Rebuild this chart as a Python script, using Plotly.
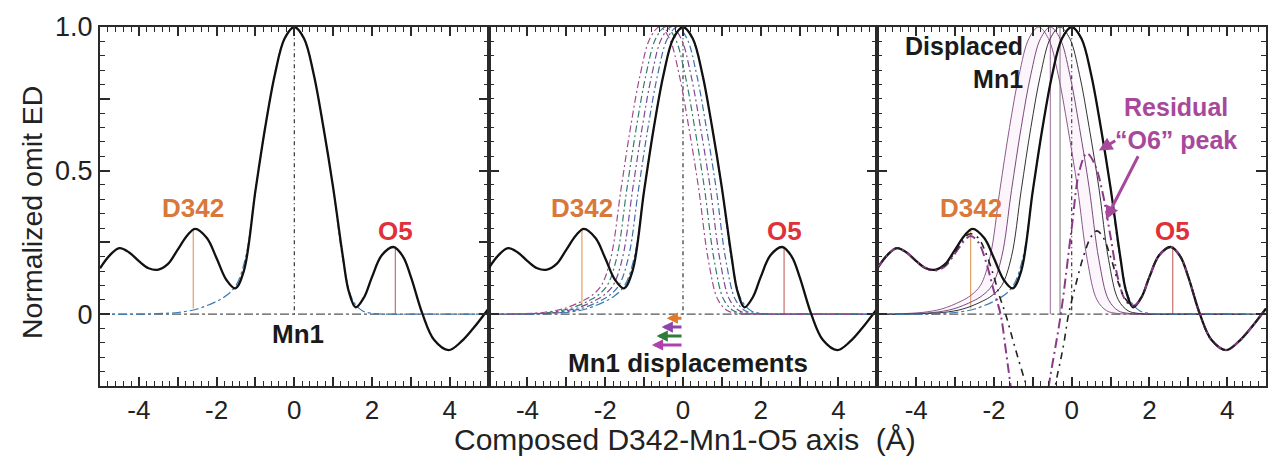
import plotly.graph_objects as go

# ---------------- data ----------------
# observed omit electron density along the composed D342-Mn1-O5 axis
x_main = [-5.0, -4.75, -4.5, -4.25, -4.0, -3.75, -3.5, -3.25, -3.0, -2.75, -2.55, -2.25, -2.0,
          -1.75, -1.52, -1.3, -1.0, -0.75, -0.5, -0.25, 0.0, 0.25, 0.5, 0.75, 1.0, 1.25, 1.4,
          1.58, 1.8, 2.0, 2.25, 2.55, 2.8, 3.0, 3.3, 3.6, 3.97, 4.3, 4.6, 5.0]
y_main = [0.16, 0.205, 0.23, 0.215, 0.185, 0.16, 0.155, 0.175, 0.225, 0.275, 0.297, 0.265, 0.195,
          0.12, 0.09, 0.15, 0.43, 0.65, 0.835, 0.96, 1.0, 0.96, 0.835, 0.65, 0.44, 0.2, 0.08,
          0.024, 0.06, 0.13, 0.205, 0.234, 0.2, 0.13, 0.0, -0.09, -0.125, -0.095, -0.05, 0.02]

# Mn1 model peak (blue dash-dot)
x_model = [-5.0, -4.0, -3.5, -3.0, -2.5, -2.0, -1.75, -1.5, -1.25, -1.0, -0.75, -0.5, -0.25, 0.0,
           0.25, 0.5, 0.75, 1.0, 1.25, 1.5, 1.75, 2.0, 2.5, 3.0, 5.0]
y_model = [0.0, 0.0, 0.002, 0.006, 0.018, 0.045, 0.065, 0.1, 0.2, 0.43, 0.65, 0.835, 0.96, 1.0,
           0.96, 0.835, 0.65, 0.44, 0.19, 0.05, 0.012, 0.003, 0.0, 0.0, 0.0]

# panel 2: scanned Mn1 displacements (Å)
scan_shifts = [-0.15, -0.3, -0.45, -0.6]
scan_colors = ["#3f6fa8", "#7b4a95", "#2f7f68", "#a24a92"]
arrow_ends = [-0.42, -0.55, -0.68, -0.8]
arrow_colors = ["#e07b2a", "#8e44ad", "#2e7d3a", "#b23fae"]

# panel 3: displaced Mn1 peaks (Å)
displaced_shifts = [-0.85, -0.55, -0.3]
displaced_colors = ["#8c5a8c", "#7a4a7a", "#333333"]

# residual density after removing displaced Mn1 (purple and black dash-dot)
res_a_x = [-5.0, -4.75, -4.5, -4.25, -4.0, -3.75, -3.5, -3.25, -3.0, -2.75, -2.6, -2.4, -2.2, -2.0,
           -1.83, -1.7, -1.57, -1.35, -1.1, -0.8, -0.59, -0.28, 0.0, 0.2, 0.39, 0.6, 0.8, 1.0,
           1.2, 1.4, 1.6, 1.8, 2.0, 2.25, 2.55, 2.8, 3.0, 3.3, 3.6, 3.97, 4.3, 4.6, 5.0]
res_a_y = [0.16, 0.205, 0.23, 0.215, 0.185, 0.16, 0.152, 0.168, 0.212, 0.258, 0.272, 0.25, 0.18, 0.08,
           0.0, -0.12, -0.25, -0.45, -0.55, -0.45, -0.25, 0.0, 0.3, 0.5, 0.56, 0.52, 0.42, 0.27,
           0.12, 0.045, 0.03, 0.06, 0.13, 0.205, 0.234, 0.2, 0.13, 0.0, -0.09, -0.125, -0.095, -0.05, 0.02]
res_b_x = [-5.0, -4.75, -4.5, -4.25, -4.0, -3.75, -3.5, -3.25, -3.0, -2.75, -2.6, -2.4, -2.2, -2.0,
           -1.85, -1.7, -1.45, -1.16, -0.9, -0.6, -0.35, -0.2, -0.08, 0.1, 0.3, 0.5, 0.65, 0.8,
           1.0, 1.2, 1.4, 1.6, 1.8, 2.0, 2.25, 2.55, 2.8, 3.0, 3.3, 3.6, 3.97, 4.3, 4.6, 5.0]
res_b_y = [0.16, 0.205, 0.23, 0.215, 0.185, 0.16, 0.154, 0.172, 0.218, 0.268, 0.28, 0.265, 0.21, 0.13,
           0.06, 0.0, -0.12, -0.25, -0.35, -0.33, -0.2, -0.1, 0.0, 0.1, 0.2, 0.27, 0.29, 0.27,
           0.2, 0.11, 0.05, 0.028, 0.06, 0.13, 0.205, 0.234, 0.2, 0.13, 0.0, -0.09, -0.125, -0.095, -0.05, 0.02]

# atom positions and peak heights
d342_x, d342_base, d342_peak = -2.6, 0.02, 0.297
o5_x, o5_peak = 2.6, 0.234
mn1_x, mn1_peak = 0.0, 1.0

# ticks
xtick_vals = [-4, -3, -2, -1, 0, 1, 2, 3, 4]
xtick_text = ["-4", "", "-2", "", "0", "", "2", "", "4"]
ytick_vals = [-0.25, 0, 0.25, 0.5, 0.75, 1.0]
ytick_text = ["", "0", "", "0.5", "", "1.0"]

FONT = "Liberation Sans, Arial, Helvetica, sans-serif"
AX = "#2a2a2a"
ORANGE = "#d8783a"
RED = "#e0303a"
MAG = "#a8489c"
PX_PER_UNIT = 38.9  # horizontal pixels per Å in each panel (for arrow lengths)

fig = go.Figure()


def add(panel, **kw):
    sfx = "" if panel == 1 else str(panel)
    kw.setdefault("mode", "lines")
    kw.setdefault("showlegend", False)
    kw.setdefault("hoverinfo", "skip")
    fig.add_trace(go.Scatter(xaxis="x" + sfx, yaxis="y" + sfx, **kw))


for p in (1, 2, 3):
    # atom markers (vertical lines)
    add(p, x=[d342_x, d342_x], y=[d342_base, d342_peak], line=dict(color="#e2a060", width=1.2))
    add(p, x=[o5_x, o5_x], y=[0, o5_peak], line=dict(color="#c8706a", width=1.2))
    add(p, x=[mn1_x, mn1_x], y=[0, mn1_peak], line=dict(color="#333", width=1.2, dash="1px,3px,4px,3px"))

# panel 1
add(1, x=x_model, y=y_model, line=dict(color="#3b7bb5", width=1.2, dash="dashdot", shape="spline"))
add(1, x=x_main, y=y_main, line=dict(color="#111", width=2.3, shape="spline"))

# panel 2
add(2, x=x_model, y=y_model, line=dict(color="#3b7bb5", width=1.2, dash="dashdot", shape="spline"))
for s, c in zip(scan_shifts, scan_colors):
    add(2, x=[v + s for v in x_model], y=y_model,
        line=dict(color=c, width=1.2, dash="7px,3px,2px,3px", shape="spline"))
add(2, x=x_main, y=y_main, line=dict(color="#111", width=2.3, shape="spline"))

# panel 3
add(3, x=[displaced_shifts[1]] * 2, y=[0, 1.0], line=dict(color="#9a6a9a", width=1.0))
add(3, x=[displaced_shifts[2]] * 2, y=[0, 1.0], line=dict(color="#777", width=1.0))
add(3, x=[v + displaced_shifts[0] for v in x_model], y=y_model,
    line=dict(color=displaced_colors[0], width=1.0, shape="spline"))
add(3, x=[v + displaced_shifts[1] for v in x_model], y=y_model,
    line=dict(color=displaced_colors[1], width=1.0, shape="spline"),
    fill="tonexty", fillcolor="rgba(225,170,225,0.11)")
add(3, x=[v + displaced_shifts[2] for v in x_model], y=y_model,
    line=dict(color=displaced_colors[2], width=1.0, shape="spline"),
    fill="tonexty", fillcolor="rgba(235,205,240,0.08)")
add(3, x=x_model, y=y_model, line=dict(color="#3b7bb5", width=1.2, dash="dashdot", shape="spline"))
add(3, x=x_main, y=y_main, line=dict(color="#111", width=2.3, shape="spline"))
add(3, x=res_a_x, y=res_a_y, line=dict(color="#8a3a8a", width=2.0, dash="10px,4px,2px,4px", shape="spline"))
add(3, x=res_b_x, y=res_b_y, line=dict(color="#222", width=1.6, dash="2px,5px,7px,5px", shape="spline"))

# ---------------- axes ----------------
doms = [[0, 0.3333], [0.3333, 0.6667], [0.6667, 1.0]]
for i, d in enumerate(doms, start=1):
    sfx = "" if i == 1 else str(i)
    fig.layout["xaxis" + sfx] = dict(
        domain=d, range=[-5, 5], anchor="y" + sfx,
        showline=True, linecolor=AX, linewidth=2, mirror="allticks",
        ticks="inside", ticklen=9, tickwidth=1.5, tickcolor=AX,
        tickmode="array", tickvals=xtick_vals, ticktext=xtick_text,
        minor=dict(dtick=0.2, tick0=0, ticks="inside", ticklen=5, tickwidth=1.2, tickcolor=AX),
        showgrid=False, zeroline=False,
        tickfont=dict(family=FONT, size=26, color="#222"),
    )
    fig.layout["yaxis" + sfx] = dict(
        domain=[0, 1], range=[-0.25, 1.0], anchor="x" + sfx,
        showline=True, linecolor=AX, linewidth=2, mirror="allticks",
        ticks="inside", ticklen=10, tickwidth=1.5, tickcolor=AX,
        tickmode="array", tickvals=ytick_vals, ticktext=ytick_text,
        minor=dict(dtick=0.05, tick0=0, ticks="inside", ticklen=5, tickwidth=1.2, tickcolor=AX),
        showgrid=False, zeroline=False, showticklabels=(i == 1),
        tickfont=dict(family=FONT, size=27, color="#222"),
    )

# zero lines
for i in (1, 2, 3):
    sfx = "" if i == 1 else str(i)
    fig.add_shape(type="line", xref=f"x{sfx} domain", yref="y" + sfx, x0=0, x1=1, y0=0, y1=0,
                  line=dict(color="#555", width=1.3, dash="dashdot"), layer="below")

# ---------------- annotations ----------------
def txt(panel, x, y, text, color, size=26, xanchor="center", align="center"):
    sfx = "" if panel == 1 else str(panel)
    fig.add_annotation(xref="x" + sfx, yref="y" + sfx, x=x, y=y, text=text,
                       showarrow=False, xanchor=xanchor, yanchor="middle", align=align,
                       font=dict(family=FONT, size=size, color=color))

for p in (1, 2, 3):
    txt(p, d342_x, 0.37, "<b>D342</b>", ORANGE)
    txt(p, o5_x, 0.29, "<b>O5</b>", RED)
txt(1, 0.1, -0.07, "<b>Mn1</b>", "#1a1a1a")
txt(2, 0.13, -0.17, "<b>Mn1 displacements</b>", "#1a1a1a")
txt(3, -1.19, 0.875, "<b>Displaced</b><br><b>Mn1</b>", "#1a1a1a", size=25, xanchor="right", align="right")
txt(3, 2.68, 0.665, "<b>Residual</b><br><b>“O6” peak</b>", MAG, size=25)

# displacement arrows (panel 2): head at the displaced position, tail at Mn1 (x=0)
levels = [-0.014, -0.045, -0.076, -0.107]
for e, c, lv in zip(arrow_ends, arrow_colors, levels):
    fig.add_annotation(xref="x2", yref="y2", x=e, y=lv, ax=-e * PX_PER_UNIT, ay=0,
                       text="", showarrow=True, arrowhead=2, arrowsize=0.75, arrowwidth=3,
                       arrowcolor=c, standoff=0, startstandoff=0)

# residual arrows (panel 3)
fig.add_annotation(xref="x3", yref="y3", axref="x3", ayref="y3", x=0.7, y=0.57, ax=1.16, ay=0.607,
                   text="", showarrow=True, arrowhead=2, arrowsize=0.9, arrowwidth=3, arrowcolor=MAG)
fig.add_annotation(xref="x3", yref="y3", axref="x3", ayref="y3", x=0.88, y=0.33, ax=1.73, ay=0.555,
                   text="", showarrow=True, arrowhead=2, arrowsize=0.9, arrowwidth=3, arrowcolor=MAG)

# axis titles
fig.add_annotation(xref="paper", yref="paper", x=0.502, y=-0.149, text="Composed D342-Mn1-O5 axis\u00a0\u00a0(Å)",
                   showarrow=False, xanchor="center", yanchor="middle",
                   font=dict(family=FONT, size=30, color="#222"))
fig.add_annotation(xref="paper", yref="paper", x=-0.0583, y=0.482, text="Normalized omit ED",
                   showarrow=False, xanchor="center", yanchor="middle", textangle=-90,
                   font=dict(family=FONT, size=28.5, color="#222"))

fig.update_layout(
    width=1280, height=467,
    margin=dict(l=100, r=13, t=23, b=81),
    paper_bgcolor="white", plot_bgcolor="white",
    font=dict(family=FONT),
)

fig.write_html("out.html")
